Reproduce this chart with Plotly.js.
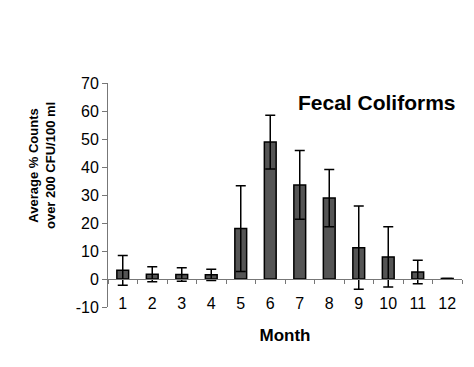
<!DOCTYPE html>
<html><head><meta charset="utf-8">
<script src="https://cdn.plot.ly/plotly-3.0.1.min.js"></script>
<style>html,body{margin:0;padding:0;background:#fff;}#chart{width:474px;height:367px;}</style>
</head><body><div id="chart"></div>
<script>
const months = [1,2,3,4,5,6,7,8,9,10,11,12];
const monthLabels = ['1','2','3','4','5','6','7','8','9','10','11','12'];
const avgPercent = [3.1, 1.7, 1.6, 1.5, 18.0, 48.9, 33.6, 28.9, 11.2, 7.9, 2.5, 0.2];
const errorValues = [5.3, 2.7, 2.4, 2.0, 15.3, 9.6, 12.3, 10.2, 14.9, 10.8, 4.2, 0];
const boundaries = [0.5,1.5,2.5,3.5,4.5,5.5,6.5,7.5,8.5,9.5,10.5,11.5,12.5];
const yTickVals = [-10, 0, 10, 20, 30, 40, 50, 60, 70];
const yTickText = ['-10', '0', '10', '20', '30', '40', '50', '60', '70'];

const FONT = '"Liberation Sans", Arial, Helvetica, sans-serif';
const trace = {
  type: 'bar', x: months, y: avgPercent,
  marker: {color: '#555555', line: {color: '#000', width: 1.5}},
  error_y: {type: 'data', array: errorValues, visible: true, color: '#000', thickness: 1.5, width: 5},
  hoverinfo: 'x+y'
};
const layout = {
  width: 474, height: 367,
  margin: {l: 108, r: 12, t: 83, b: 60},
  paper_bgcolor: '#fff', plot_bgcolor: '#fff',
  font: {family: FONT, color: '#000', size: 16},
  showlegend: false, bargap: 0.6,
  xaxis: {
    range: [0.5, 12.5], tickvals: months, ticktext: monthLabels,
    anchor: 'free', position: 0.065, showline: false, ticks: '', showgrid: false, zeroline: false,
    tickfont: {size: 16, family: FONT},
    title: {text: '<b>Month</b>', font: {size: 17, family: FONT}, standoff: 17}
  },
  xaxis2: {
    range: [0.5, 12.5], overlaying: 'x', anchor: 'free', position: 0.125,
    showline: true, linecolor: '#777', linewidth: 1, ticks: 'outside', ticklen: 4, tickcolor: '#777',
    tickvals: boundaries, showticklabels: false, showgrid: false, zeroline: false
  },
  yaxis: {
    range: [-10, 70], tickvals: yTickVals, ticktext: yTickText, showline: true, linecolor: '#777', linewidth: 1,
    ticks: 'outside', ticklen: 5, tickcolor: '#777', showgrid: false, zeroline: false,
    tickfont: {size: 16, family: FONT}
  },
  annotations: [{
    text: '<b>Fecal Coliforms</b>', xref: 'paper', yref: 'paper', x: 0.99, y: 0.915,
    xanchor: 'right', yanchor: 'middle', showarrow: false, font: {size: 21, family: FONT, color: '#000'}
  }, {
    text: '<b>Average % Counts<br>over 200 CFU/100 ml</b>', xref: 'paper', yref: 'paper',
    x: -0.186, y: 0.63, xanchor: 'center', yanchor: 'middle', textangle: -90, showarrow: false,
    font: {size: 13, family: FONT, color: '#000'}
  }]
};
const t2 = {type: 'scatter', x: [1], y: [0], xaxis: 'x2', mode: 'markers', marker: {opacity: 0}, hoverinfo: 'skip'};
Plotly.newPlot('chart', [trace, t2], layout, {displayModeBar: false, staticPlot: true});
</script></body></html>
